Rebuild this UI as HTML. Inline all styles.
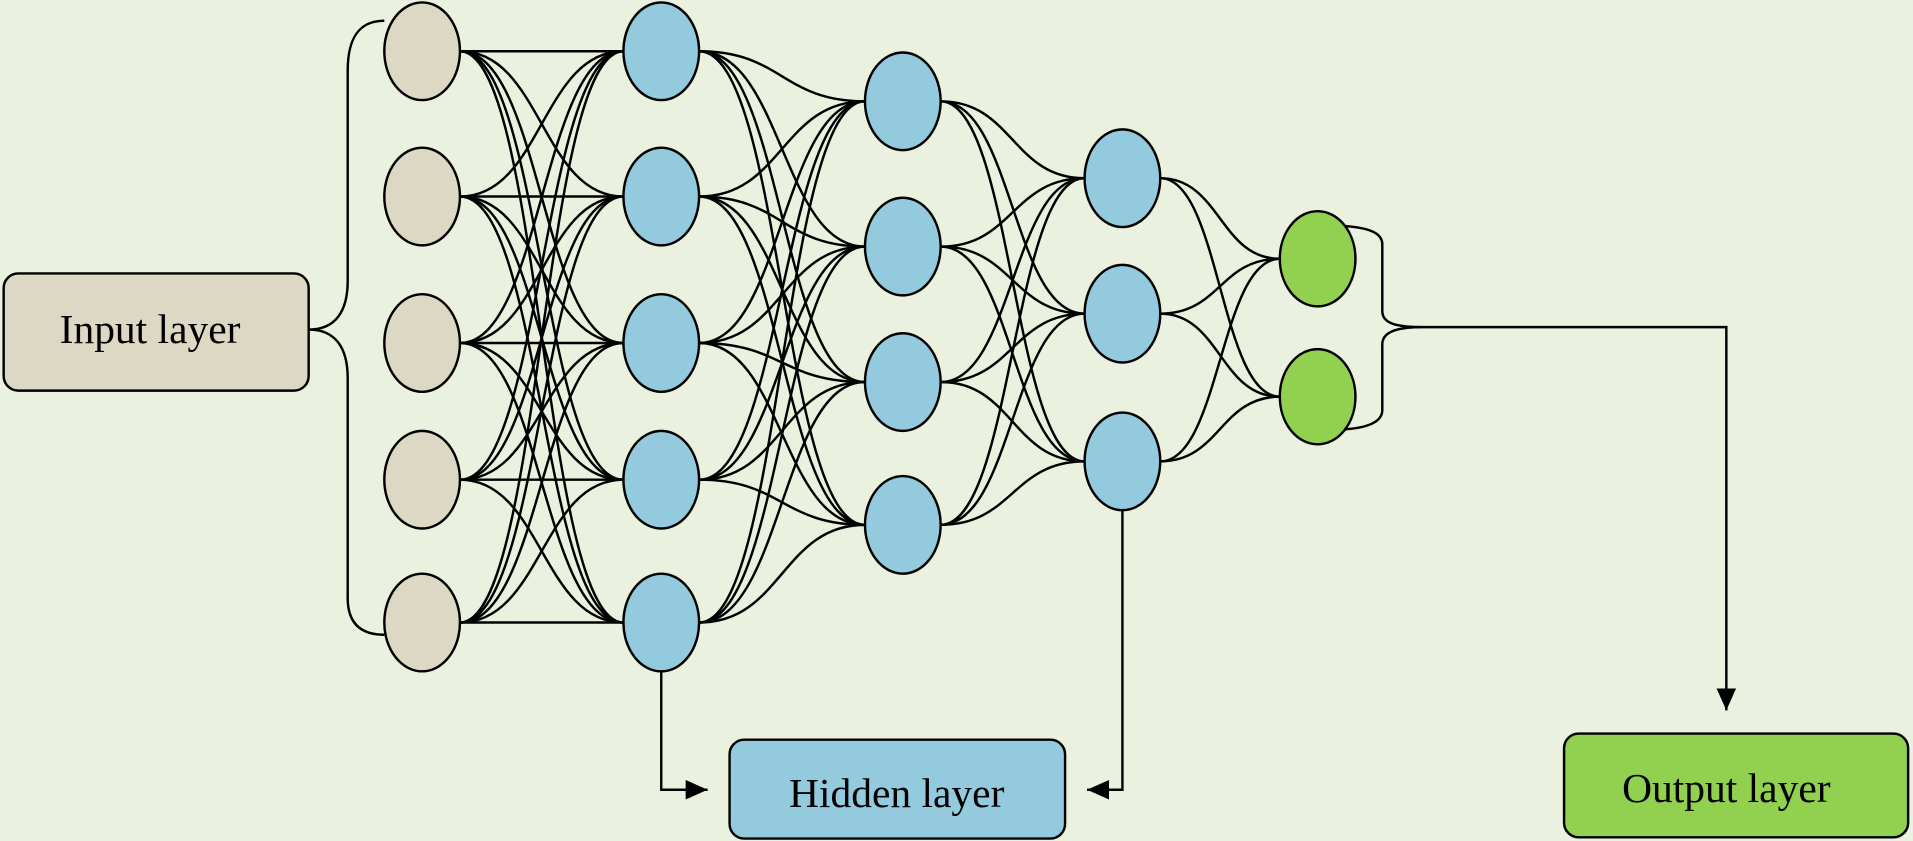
<!DOCTYPE html>
<html><head><meta charset="utf-8"><style>
html,body{margin:0;padding:0;background:#eaf1de;}
svg{display:block}
text{font-family:"Liberation Serif",serif;}
</style></head><body>
<svg id="s" width="1913" height="841" viewBox="0 0 1568 689" preserveAspectRatio="none" xmlns="http://www.w3.org/2000/svg">
<rect width="1568" height="689" fill="#eaf1de"/>
<defs><marker id="a" markerWidth="10" markerHeight="10" refX="9" refY="5" orient="auto" markerUnits="userSpaceOnUse"><path d="M0,0 L10,5 L0,10 Z" fill="#000"/></marker>
<marker id="b" markerWidth="20" markerHeight="20" refX="18" refY="8" orient="auto" markerUnits="userSpaceOnUse"><path d="M0,0 L18,8 L0,16 Z" fill="#000"/></marker></defs>
<g id="lines" fill="none" stroke="#000" stroke-width="2"></g>
<g fill="none" stroke="#000" stroke-width="2">
<path d="M253,270 C275,270 285,255 285,230 L285,58 C285,30 295,17 315,17"/>
<path d="M253,270 C275,270 285,285 285,310 L285,490 C285,510 295,520 315,520"/>
<path d="M1098,185 C1120,186 1133,190 1133,200 L1133,255 C1133,265 1145,268 1165,268"/>
<path d="M1098,352 C1120,351 1133,346 1133,336 L1133,282 C1133,272 1145,268 1165,268"/>
<path d="M1165,268 L1415,268 L1415,582" marker-end="url(#b)"/>
<path d="M542,550 L542,647 L580,647" marker-end="url(#b)"/>
<path d="M920,418 L920,647 L891,647" marker-end="url(#b)"/>
</g>
<g id="nodes" stroke="#000" stroke-width="2"></g>
<g stroke="#000" stroke-width="2">
<rect x="3" y="224" width="250" height="96" rx="12" fill="#ddd8c4"/>
<rect x="598" y="606" width="275" height="81" rx="12" fill="#93cadd"/>
<rect x="1282" y="601" width="282" height="85" rx="12" fill="#92d050"/>
</g>
<text x="123" y="281" font-size="34" text-anchor="middle">Input layer</text>
<text x="735" y="661" font-size="34" text-anchor="middle">Hidden layer</text>
<text x="1415" y="657" font-size="34" text-anchor="middle">Output layer</text>
</svg>
<script>
var L=[{x:346,ys:[42,161,281,393,510],c:"#ddd8c4"},{x:542,ys:[42,161,281,393,510],c:"#93cadd"},{x:740,ys:[83,202,313,430],c:"#93cadd"},{x:920,ys:[146,257,378],c:"#93cadd"},{x:1080,ys:[212,325],c:"#92d050"}];
var ns="http://www.w3.org/2000/svg",lg=document.getElementById("lines"),ng=document.getElementById("nodes");
for(var i=0;i<L.length-1;i++){var a=L[i],b=L[i+1],x1=a.x+31,x2=b.x-31,xm=(x1+x2)/2;
a.ys.forEach(function(y1){b.ys.forEach(function(y2){var p=document.createElementNS(ns,"path");
p.setAttribute("d","M"+x1+","+y1+" C"+xm+","+y1+" "+xm+","+y2+" "+x2+","+y2);lg.appendChild(p);});});}
L.forEach(function(l){l.ys.forEach(function(y){var e=document.createElementNS(ns,"ellipse");e.setAttribute("cx",l.x);e.setAttribute("cy",y);e.setAttribute("rx",31);e.setAttribute("ry",l.c=="#92d050"?39:40);e.setAttribute("fill",l.c);ng.appendChild(e);});});
</script>
</body></html>
